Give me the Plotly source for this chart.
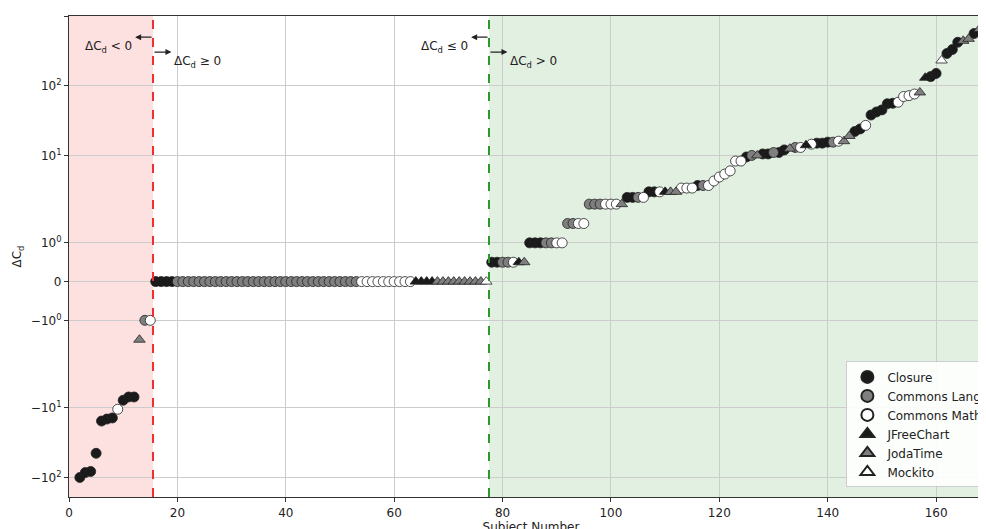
import numpy as np
import plotly.graph_objects as go

# delta C_d per subject, sorted; subject numbers start at 2
subject_start = 2
delta_cd = [
    -100, -85, -82, -45, -15.5, -14.5, -14, -10.5, -7.8, -7, -7, -1.5, -1, -1,
    0, 0, 0, 0, 0, 0, 0, 0, 0, 0, 0, 0, 0, 0, 0, 0, 0, 0, 0, 0, 0, 0, 0, 0,
    0, 0, 0, 0, 0, 0, 0, 0, 0, 0, 0, 0, 0, 0, 0, 0, 0, 0, 0, 0, 0, 0, 0, 0,
    0, 0, 0, 0, 0, 0, 0, 0, 0, 0, 0, 0, 0, 0,
    0.5, 0.5, 0.5, 0.5, 0.5, 0.5, 0.5,
    1, 1, 1, 1, 1, 1, 1,
    1.5, 1.5, 1.5, 1.5,
    2, 2, 2, 2, 2, 2, 2,
    2.5, 2.5, 2.5, 2.5,
    3, 3, 3, 3, 3, 3,
    3.4, 3.4, 3.4,
    3.7, 3.7, 3.7,
    4.3, 4.9, 5.4, 6, 8.3, 8.3,
    9.5, 10, 10, 10.5, 10.5, 11, 11,
    12, 12.5, 13, 13,
    14, 14.5, 15, 15, 15.5, 15.5, 16, 16,
    19, 22, 24, 27, 38, 42, 45, 55, 56, 58, 70, 72, 76, 80,
    130, 135, 150, 230, 290, 330, 420, 440, 470, 560, 650,
]
# C=Closure L=Commons Lang M=Commons Math J=JFreeChart T=JodaTime K=Mockito
project_codes = (
    "CCCCCCCMCCCTLM"
    + "CCCC" + "L" * 34 + "M" * 10 + "JJJJ" + "T" * 9 + "K"
    + "CCLLMJT" + "CCCLLMM" + "LLMM" + "LLLMMMT" + "CCLM" + "CCMJTT"
    + "MMM" + "CLM" + "MMMMMM" + "CLTCCLC" + "CTLM" + "JMCCCLMT"
    + "TCCMCCCCCMMMMT" + "JCCKCCCTTCT"
)
projects = ["Closure", "Commons Lang", "Commons Math", "JFreeChart", "JodaTime", "Mockito"]
project_keys = ["C", "L", "M", "J", "T", "K"]
project_symbol = ["circle", "circle", "circle", "triangle-up", "triangle-up", "triangle-up"]
project_color = ["#1a1a1a", "#7f7f7f", "#ffffff", "#1a1a1a", "#7f7f7f", "#ffffff"]
ytick_values = [-100, -10, -1, 0, 1, 10, 100, 1000]
ytick_labels = ["−10<sup>2</sup>", "−10<sup>1</sup>", "−10<sup>0</sup>", "0",
                "10<sup>0</sup>", "10<sup>1</sup>", "10<sup>2</sup>", "10<sup>3</sup>"]

# symlog like matplotlib, linthresh=2, linscale=1
LINTHRESH = 2.0
LINSCALE = 1.0 / (1 - 0.1)


def symlog(v):
    v = np.asarray(v, dtype=float)
    a = np.abs(v)
    out = np.where(a <= LINTHRESH, v / LINTHRESH * LINSCALE,
                   np.sign(v) * (LINSCALE + np.log10(np.maximum(a, 1e-12) / LINTHRESH)))
    return out


x_all = np.arange(subject_start, subject_start + len(delta_cd))
y_all = symlog(delta_cd)
codes = np.array(list(project_codes))

fig = go.Figure()
for name, key, sym, col in zip(projects, project_keys, project_symbol, project_color):
    m = codes == key
    fig.add_trace(go.Scatter(
        x=x_all[m], y=y_all[m], mode="markers", name=name,
        marker=dict(symbol=sym, color=col, size=10, line=dict(color="#222", width=0.8)),
    ))

y_lo, y_hi = -3.09, symlog([1000])[0]
fig.add_vrect(x0=0, x1=15.5, fillcolor="#fde0e0", line_width=0, layer="below")
fig.add_vrect(x0=77.5, x1=170.5, fillcolor="#e1f0e1", line_width=0, layer="below")
fig.add_vline(x=15.5, line=dict(color="#f03030", width=2, dash="dash"))
fig.add_vline(x=77.5, line=dict(color="#2a9a2a", width=2, dash="dash"))

txt = dict(size=12, color="#222", family="DejaVu Sans")
for xt, yp, s, anchor, head, tail in [
    (12.0, 0.956, "ΔC<sub>d</sub> < 0", "right", 12.2, 15.5),
    (19.0, 0.925, "ΔC<sub>d</sub> ≥ 0", "left", 18.9, 15.5),
    (74.0, 0.956, "ΔC<sub>d</sub> ≤ 0", "right", 74.2, 77.5),
    (81.0, 0.925, "ΔC<sub>d</sub> > 0", "left", 80.9, 77.5),
]:
    fig.add_annotation(x=xt, y=yp, xref="x", yref="paper", text=s, showarrow=False,
                       xanchor=anchor, font=txt)
    fig.add_annotation(x=head, y=yp, xref="x", yref="paper", ax=tail, ay=0,
                       axref="x", ayref="pixel", text="", showarrow=True,
                       arrowhead=2, arrowsize=1, arrowwidth=1.2, arrowcolor="#222")

axis_common = dict(showline=True, linecolor="#333", linewidth=1.2, mirror=True,
                   ticks="outside", ticklen=4, tickcolor="#333",
                   gridcolor="#cccccc", zeroline=False,
                   tickfont=dict(size=12, color="#222", family="DejaVu Sans"))
fig.update_xaxes(range=[0, 170.5], tickvals=[0, 20, 40, 60, 80, 100, 120, 140, 160],
                 title=dict(text="Subject Number", font=dict(size=12, family="DejaVu Sans", color="#222"),
                            standoff=4), **axis_common)
fig.update_yaxes(range=[y_lo, y_hi], tickvals=symlog(ytick_values), ticktext=ytick_labels,
                 title=dict(text="ΔC<sub>d</sub>", font=dict(size=12, family="DejaVu Sans", color="#222"),
                            standoff=6), **axis_common)
fig.update_layout(
    width=986, height=529, margin=dict(l=61, r=1, t=8, b=40),
    plot_bgcolor="white", paper_bgcolor="white",
    legend=dict(x=0.995, y=0.02, xanchor="right", yanchor="bottom",
                bgcolor="rgba(255,255,255,0.9)", bordercolor="#ccc", borderwidth=1,
                font=dict(size=12, family="DejaVu Sans", color="#222"), itemsizing="constant"),
)
fig.write_html("out.html")
